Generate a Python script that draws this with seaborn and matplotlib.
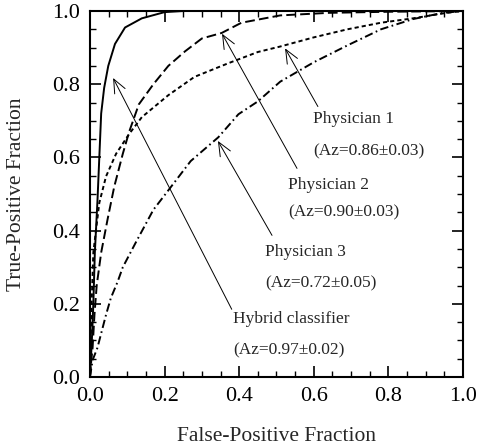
import matplotlib
matplotlib.use("Agg")
import matplotlib.pyplot as plt
import seaborn as sns
from matplotlib.ticker import MultipleLocator

# ROC curves
hybrid_fpf = [0.0, 0.005, 0.009, 0.013, 0.02, 0.025, 0.03, 0.038, 0.049, 0.067, 0.094, 0.139, 0.2, 0.25, 0.5, 1.0]
hybrid_tpf = [0.0, 0.1, 0.2, 0.34, 0.48, 0.6, 0.72, 0.79, 0.85, 0.91, 0.955, 0.98, 0.997, 1.0, 1.0, 1.0]

phys2_fpf = [0.0, 0.003, 0.007, 0.012, 0.018, 0.03, 0.047, 0.065, 0.088, 0.105, 0.131, 0.17, 0.21, 0.255, 0.3, 0.353, 0.406, 0.51, 0.64, 0.8, 1.0]
phys2_tpf = [0.0, 0.04, 0.08, 0.17, 0.25, 0.34, 0.43, 0.52, 0.61, 0.67, 0.745, 0.8, 0.85, 0.89, 0.925, 0.94, 0.968, 0.988, 0.995, 0.998, 1.0]

phys1_fpf = [0.0, 0.003, 0.006, 0.009, 0.016, 0.025, 0.043, 0.07, 0.105, 0.139, 0.21, 0.28, 0.37, 0.45, 0.51, 0.6, 0.69, 0.78, 0.866, 0.956, 1.0]
phys1_tpf = [0.0, 0.15, 0.25, 0.34, 0.4, 0.476, 0.548, 0.61, 0.664, 0.71, 0.77, 0.82, 0.857, 0.888, 0.903, 0.928, 0.95, 0.968, 0.98, 0.995, 1.0]

phys3_fpf = [0.0, 0.007, 0.02, 0.043, 0.056, 0.074, 0.088, 0.123, 0.17, 0.21, 0.27, 0.344, 0.398, 0.45, 0.51, 0.6, 0.69, 0.78, 0.866, 0.946, 1.0]
phys3_tpf = [0.0, 0.046, 0.08, 0.17, 0.216, 0.26, 0.3, 0.368, 0.457, 0.51, 0.59, 0.655, 0.718, 0.753, 0.807, 0.86, 0.906, 0.95, 0.978, 0.995, 1.0]

labels = ["Physician 1", "Physician 2", "Physician 3", "Hybrid classifier"]
az_texts = ["(Az=0.86\u00b10.03)", "(Az=0.90\u00b10.03)", "(Az=0.72\u00b10.05)", "(Az=0.97\u00b10.02)"]
label_x = [0.598, 0.531, 0.469, 0.383]
label_y = [0.704, 0.524, 0.341, 0.159]
az_y = [0.616, 0.449, 0.255, 0.073]
arrow_tail = [(0.611, 0.739), (0.555, 0.57), (0.488, 0.387), (0.38, 0.185)]
arrow_head = [(0.523, 0.898), (0.354, 0.938), (0.343, 0.645), (0.062, 0.817)]

sns.set_style("ticks")
plt.rcParams["font.family"] = ["Liberation Serif", "DejaVu Serif"]
plt.rcParams["lines.scale_dashes"] = False

fig = plt.figure(figsize=(4.83, 4.46), dpi=100)
ax = fig.add_axes([0.1863, 0.1547, 0.7723, 0.8206])

sns.lineplot(x=hybrid_fpf, y=hybrid_tpf, ax=ax, color="black", lw=1.4, sort=False, estimator=None)
sns.lineplot(x=phys2_fpf, y=phys2_tpf, ax=ax, color="black", lw=1.4, sort=False, estimator=None,
             linestyle=(0, (7, 3)))
sns.lineplot(x=phys1_fpf, y=phys1_tpf, ax=ax, color="black", lw=1.4, sort=False, estimator=None,
             linestyle=(0, (3, 2.2)))
sns.lineplot(x=phys3_fpf, y=phys3_tpf, ax=ax, color="black", lw=1.4, sort=False, estimator=None,
             linestyle=(0, (6, 2.5, 1.2, 2.5)))

for i in range(len(labels)):
    ax.annotate("", xy=arrow_head[i], xytext=arrow_tail[i],
                arrowprops=dict(arrowstyle="->,head_length=0.7,head_width=0.3", lw=0.7,
                                color="black", shrinkA=0, shrinkB=0, mutation_scale=14))
    ax.text(label_x[i], label_y[i], labels[i], ha="left", va="center", fontsize=12.5)
    ax.text(label_x[i], az_y[i], az_texts[i], ha="left", va="center", fontsize=12.5)

ax.set_xlim(0, 1)
ax.set_ylim(0, 1)
ax.xaxis.set_major_locator(MultipleLocator(0.2))
ax.yaxis.set_major_locator(MultipleLocator(0.2))
ax.xaxis.set_minor_locator(MultipleLocator(0.05))
ax.yaxis.set_minor_locator(MultipleLocator(0.05))
ax.tick_params(which="both", direction="in", top=True, right=True, colors="black")
ax.tick_params(which="major", length=8, width=1.2, labelsize=16, pad=7)
ax.tick_params(which="minor", length=4.5, width=1.0)
for s in ax.spines.values():
    s.set_linewidth(1.5)
    s.set_color("black")

ax.set_xlabel("False-Positive Fraction", fontsize=15.5, labelpad=15)
ax.set_ylabel("True-Positive Fraction", fontsize=15.5, labelpad=19)

fig.savefig("out.png", dpi=100)
